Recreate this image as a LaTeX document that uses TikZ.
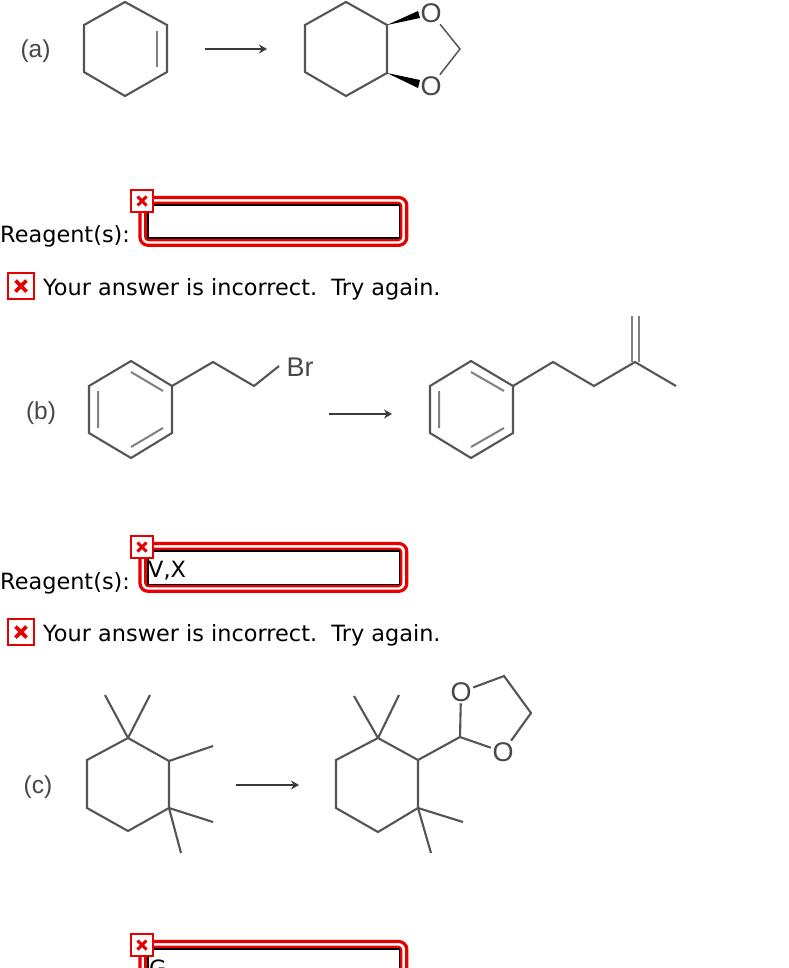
\documentclass[tikz,border=0pt]{standalone}
\usepackage{fontspec}
\setmainfont{Liberation Sans}
\newfontfamily\uifont{DejaVu Sans}
\usetikzlibrary{arrows.meta}
\definecolor{bondc}{HTML}{555555}
\definecolor{arrc}{HTML}{3A3A3A}
\definecolor{labc}{HTML}{484848}
\definecolor{errc}{HTML}{E60000}
\tikzset{
  x=1pt,y=-1pt,
  bond/.style={draw=bondc,line width=2.1pt,line join=miter},
  inner/.style={draw=bondc!75,line width=2pt},
  rxn/.style={draw=arrc,line width=2.4pt,-{Stealth[length=8pt,width=9pt]}},
  wedge/.style={fill=black,draw=none},
  lab/.style={font=\fontsize{24.5}{26}\selectfont,text=labc,inner sep=0pt},
  atom/.style={font=\fontsize{27}{29}\selectfont,text=labc,inner sep=1.5pt},
  ui/.style={font=\uifont\fontsize{22.4}{26}\selectfont,text=black,inner sep=0pt,anchor=base west},
  badge/.style={draw=errc,fill=white,line width=2pt,minimum size=22pt,inner sep=0pt},
  bigbadge/.style={draw=errc,fill=white,line width=2.6pt,minimum size=26pt,inner sep=0pt},
  cross/.style={draw=errc,line width=3pt}
}
\newcommand{\rbox}[2]{%
  \begin{scope}[shift={(0,#1)}]
    \draw[errc,line width=3.2pt,rounded corners=8pt] (140,197.5) rectangle (406.8,245.3);
    \draw[errc,line width=2.6pt,rounded corners=3pt] (145.5,203) rectangle (401,240);
    \draw[black,line width=1.4pt] (147.8,205) rectangle (399.3,238.2);
    \node[badge] (badge#2) at (142,201) {};
    \draw[cross] (badge#2.center) ++(-4.5,-4.5) -- ++(9,9);
    \draw[cross] (badge#2.center) ++(4.5,-4.5) -- ++(-9,9);
  \end{scope}}
\newcommand{\rfail}[2]{%
  \begin{scope}[shift={(0,#1)}]
    \node[ui] (rl#2) at (0,243) {Reagent(s):};
    \node[bigbadge] (fb#2) at (21,286) {};
    \draw[cross,line width=3.6pt] (fb#2.center) ++(-5.5,-5.5) -- ++(11,11);
    \draw[cross,line width=3.6pt] (fb#2.center) ++(5.5,-5.5) -- ++(-11,11);
    \node[ui] (ft#2) at (43,295) {Your answer is incorrect.\ \ Try again.};
  \end{scope}}
\begin{document}
\begin{tikzpicture}
\useasboundingbox (0,0) rectangle (788,968);
\clip (0,0) rectangle (788,968);
\fill[white] (0,0) rectangle (788,968);

% ---------- (a)
\node[lab] (la) at (35.5,51) {(a)};
\foreach \n/\p in {a1/{125,2},a2/{167,25},a3/{167,72},a4/{125,96},a5/{84,72},a6/{84,25},
  ai1/{157,31},ai2/{157,67},b1/{346,2},b2/{387,25},b3/{387,73},b4/{346,96},b5/{305,72},b6/{305,25},
  bc/{460,49},ars/{205,49},are/{267,49}}
  {\coordinate (\n) at (\p);}
\draw[bond] (a1)--(a2)--(a3)--(a4)--(a5)--(a6)--cycle;
\draw[inner] (ai1)--(ai2);
\draw[rxn] (ars)--(are);
\draw[bond] (b1)--(b2)--(b3)--(b4)--(b5)--(b6)--cycle;
\node[atom] (o1) at (431,13) {O};
\node[atom] (o2) at (431,86) {O};
\fill[wedge] (b2) -- (418,11) -- (420,18) -- cycle;
\fill[wedge] (b3) -- (418,88) -- (420,80) -- cycle;
\draw[bond,line width=1.5pt] (o1)--(bc)--(o2);

\rbox{0}{1}
\rfail{0}{1}

% ---------- (b)
\node[lab] (lb) at (41,413) {(b)};
\foreach \n/\p in {c1/{131,361},c2/{172,386},c3/{172,433},c4/{131,458},c5/{89,433},c6/{89,386},
  ci1/{131,372},ci2/{163,391},ci3/{163,428},ci4/{131,447},ci5/{98,428},ci6/{98,391},
  c7/{213,362},c8/{254,386},brb/{279,366},
  d1/{471,361},d2/{513,386},d3/{513,433},d4/{471,458},d5/{430,433},d6/{430,386},
  di1/{471,372},di2/{504,391},di3/{504,428},di4/{471,447},di5/{439,428},di6/{439,391},
  d7/{553,362},d8/{594,386},d9/{635,362},d10/{676,386},
  dbl/{632,316},dbr/{639,316},dbl0/{632,362},dbr0/{639,362},
  brs/{329,414},bre/{392,414}}
  {\coordinate (\n) at (\p);}
\draw[bond] (c1)--(c2)--(c3)--(c4)--(c5)--(c6)--cycle;
\draw[inner] (ci1)--(ci2) (ci3)--(ci4) (ci5)--(ci6);
\node[atom] (br) at (300,367) {Br};
\draw[bond] (c2)--(c7)--(c8)--(brb);
\draw[rxn] (brs)--(bre);
\draw[bond] (d1)--(d2)--(d3)--(d4)--(d5)--(d6)--cycle;
\draw[inner] (di1)--(di2) (di3)--(di4) (di5)--(di6);
\draw[bond] (d2)--(d7)--(d8)--(d9)--(d10);
\draw[inner] (dbl)--(dbl0) (dbr)--(dbr0);

\rbox{346}{2}
\node[ui] (vx) at (148,577) {V,X};
\rfail{346}{2}

% ---------- (c)
\node[lab] (lc) at (38,787) {(c)};
\foreach \n/\p in {e1/{128,738},e2/{169,761},e3/{169,808},e4/{128,831},e5/{87,808},e6/{87,760},
  em1/{105,695},em2/{150,695},em3/{213,746},em4/{213,822},em5/{181,853},
  f1/{378,738},f2/{418,760},f3/{418,808},f4/{378,832},f5/{336,808},f6/{336,760},
  fm1/{354,696},fm2/{399,695},fm3/{463,822},fm4/{431,853},
  g1/{460,737},g2/{504,676},g3/{531,713},
  crs/{236,785},cre/{299,785}}
  {\coordinate (\n) at (\p);}
\draw[bond] (e1)--(e2)--(e3)--(e4)--(e5)--(e6)--cycle;
\draw[bond] (e1)--(em1) (e1)--(em2) (e2)--(em3) (e3)--(em4) (e3)--(em5);
\draw[rxn] (crs)--(cre);
\draw[bond] (f1)--(f2)--(f3)--(f4)--(f5)--(f6)--cycle;
\draw[bond] (f1)--(fm1) (f1)--(fm2) (f3)--(fm3) (f3)--(fm4) (f2)--(g1);
\node[atom] (o3) at (461,692) {O};
\node[atom] (o4) at (503,752) {O};
\draw[bond] (o3)--(g1)--(o4)--(g3)--(g2)--(o3);

\rbox{744}{3}
\node[ui] (g) at (149,976) {G};
\end{tikzpicture}
\end{document}
